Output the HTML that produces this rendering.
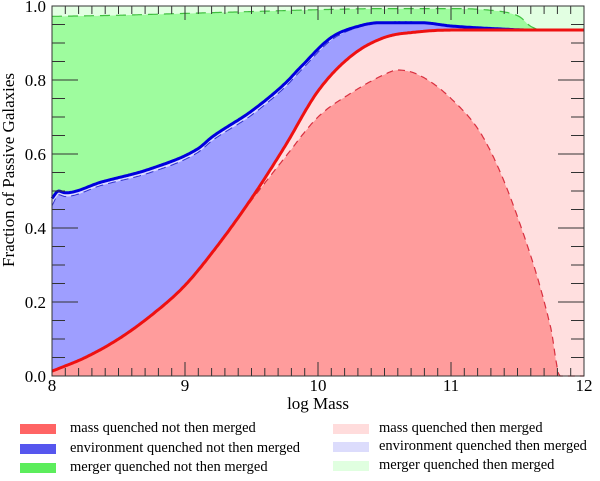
<!DOCTYPE html>
<html><head><meta charset="utf-8"><style>
body{margin:0;background:#fff;width:600px;height:476px;overflow:hidden}
svg{font-family:"Liberation Serif",serif}
</style></head><body>
<svg id="chart" width="600" height="476" viewBox="0 0 600 476">
<g id="fills"></g>
<g id="lines"></g>
<g id="axes"></g>
<text x="318" y="409" font-size="17" text-anchor="middle">log Mass</text>
<text transform="translate(14,170) rotate(-90)" font-size="17" text-anchor="middle">Fraction of Passive Galaxies</text>
<g id="legend"></g>
</svg>
<script>
const massX = [8,8.25,8.5,8.75,9,9.25,9.5,9.75,10,10.25,10.5,10.75,11,11.25,11.5,11.75,12];
const massTotal = [0.013,0.05,0.1,0.165,0.245,0.355,0.48,0.62,0.77,0.865,0.915,0.93,0.935,0.935,0.935,0.935,0.935];
const massNotMergedX = [8,8.25,8.5,8.75,9,9.25,9.5,9.75,10,10.25,10.5,10.6,10.75,11,11.25,11.5,11.75,11.82,12];
const massNotMerged = [0.013,0.05,0.1,0.165,0.245,0.355,0.475,0.59,0.7,0.765,0.815,0.827,0.815,0.75,0.64,0.43,0.13,0,0];
const envX = [8,8.05,8.1,8.37,8.74,9.1,9.2,9.5,9.75,9.87,10.1,10.3,10.47,10.77,11,11.37,11.6,12];
const envTotal = [0.48,0.5,0.495,0.524,0.56,0.615,0.645,0.716,0.79,0.835,0.915,0.945,0.955,0.955,0.946,0.938,0.935,0.935];
const envNotMerged = [0.46,0.49,0.485,0.515,0.55,0.605,0.635,0.705,0.78,0.825,0.908,0.942,0.953,0.954,0.945,0.937,0.935,0.935];
const mergerX = [8,8.5,9,9.5,10,10.5,11,11.25,11.45,11.52,11.6,11.7,12];
const mergerNotMerged = [0.972,0.975,0.98,0.985,0.99,0.993,0.993,0.99,0.98,0.97,0.945,0.935,0.935];
const xTicks = ["8","9","10","11","12"];
const yTicks = ["0.0","0.2","0.4","0.6","0.8","1.0"];

const L=52,R=584,T=6,B=376;
const sx=v=>L+(v-8)/4*(R-L);
const sy=v=>B-v*(B-T);
const NS="http://www.w3.org/2000/svg";
function mk(tag,attrs,parent){const e=document.createElementNS(NS,tag);for(const k in attrs)e.setAttribute(k,attrs[k]);parent.appendChild(e);return e;}
function interp(xs,ys,x){
 const n=xs.length;
 if(x<=xs[0])return ys[0]; if(x>=xs[n-1])return ys[n-1];
 const d=[],m=[];
 for(let i=0;i<n-1;i++)d.push((ys[i+1]-ys[i])/(xs[i+1]-xs[i]));
 m.push(d[0]);
 for(let i=1;i<n-1;i++){m.push(d[i-1]*d[i]<=0?0:(d[i-1]+d[i])/2);}
 m.push(d[n-2]);
 for(let i=0;i<n-1;i++){if(d[i]===0){m[i]=0;m[i+1]=0;continue;}const a=m[i]/d[i],b=m[i+1]/d[i],s=a*a+b*b;if(s>9){const t=3/Math.sqrt(s);m[i]=t*a*d[i];m[i+1]=t*b*d[i];}}
 let i=0;while(x>xs[i+1])i++;
 const h=xs[i+1]-xs[i],t=(x-xs[i])/h;
 const h00=2*t*t*t-3*t*t+1,h10=t*t*t-2*t*t+t,h01=-2*t*t*t+3*t*t,h11=t*t*t-t*t;
 return h00*ys[i]+h10*h*m[i]+h01*ys[i+1]+h11*h*m[i+1];
}
const grid=[];for(let i=0;i<=400;i++)grid.push(8+i*0.01);
const f=(xs,ys)=>grid.map(x=>interp(xs,ys,x));
const gTop=grid.map(()=>1), gZero=grid.map(()=>0);
const gMT=f(massX,massTotal);
const gMN=f(massNotMergedX,massNotMerged).map((v,i)=>Math.max(0,Math.min(v,gMT[i])));
const gEN=f(envX,envNotMerged).map((v,i)=>Math.max(v,gMT[i])), gET=f(envX,envTotal).map((v,i)=>Math.max(v,gMT[i]));
const gGN=f(mergerX,mergerNotMerged).map((v,i)=>Math.max(v,gET[i]));
function linePts(a){return grid.map((x,i)=>sx(x).toFixed(1)+","+sy(a[i]).toFixed(1)).join(" ");}
function band(lo,hi,color,name){const p=linePts(hi)+" "+grid.slice().reverse().map((x,j)=>{const i=grid.length-1-j;return sx(x).toFixed(1)+","+sy(lo[i]).toFixed(1);}).join(" ");
 const e=mk("polygon",{points:p,fill:color},document.getElementById("fills"));
 
 }
band(gZero,gMN,"#ff9c9c","area-mass-not-merged");
band(gMN,gMT,"#ffdfdf","area-mass-merged");
band(gMT,gEN,"#9e9eff","area-env-not-merged");
band(gEN,gET,"#dadaff","area-env-merged");
band(gET,gGN,"#9efc9e","area-merger-not-merged");
band(gGN,gTop,"#e2ffe2","area-merger-merged");
const lg=document.getElementById("lines");
function line(a,color,w,dash,name){const e=mk("polyline",{points:linePts(a),fill:"none",stroke:color,"stroke-width":w},lg);if(dash)e.setAttribute("stroke-dasharray",dash);
 
 }
line(gMN,"#d83040",1.2,"7,5","line-mass-not-merged");
line(gGN,"#40c040",1.2,"10,6","line-merger-not-merged");
line(gEN,"#3333cc",1,"8,5","line-env-not-merged");
line(gET,"#0000dd",3,null,"line-env-total");
line(gMT,"#ee1111",3,null,"line-mass-total");
const ax=document.getElementById("axes");
const fr=mk("rect",{x:L,y:T,width:R-L,height:B-T,fill:"none",stroke:"#333","stroke-width":1},ax);

for(let i=0;i<=40;i++){const x=sx(8+i*0.1),len=i%10===0?14:8;
 mk("line",{x1:x,x2:x,y1:B,y2:B-len,stroke:"#333"},ax);mk("line",{x1:x,x2:x,y1:T,y2:T+len,stroke:"#333"},ax);}
for(let i=0;i<=20;i++){const y=sy(i*0.05),len=i%4===0?26:13;
 mk("line",{x1:L,x2:L+len,y1:y,y2:y,stroke:"#333"},ax);mk("line",{x1:R,x2:R-len,y1:y,y2:y,stroke:"#333"},ax);}
xTicks.forEach(t=>{const e=mk("text",{x:sx(+t),y:B+15,"font-size":17,"text-anchor":"middle"},ax);e.textContent=t;
 });
yTicks.forEach(t=>{const e=mk("text",{x:L-6,y:sy(+t)+6,"font-size":17,"text-anchor":"end"},ax);e.textContent=t;
 });
const legendItems=[["mass quenched not then merged","#ff6464",20,70,429],["environment quenched not then merged","#5656ee",20,70,449],["merger quenched not then merged","#5ced5c",20,70,468],
["mass quenched then merged","#ffdcdc",333,379,429],["environment quenched then merged","#dcdcfc",333,379,447],["merger quenched then merged","#e0ffe0",333,379,466]];
const lgd=document.getElementById("legend");
legendItems.forEach(it=>{const g=mk("g",{},lgd);
 mk("rect",{x:it[2],y:it[4]-5,width:36,height:10,fill:it[1]},g);
 const t=mk("text",{x:it[3],y:it[4]+3,"font-size":14.5},g);t.textContent=it[0];});
</script>
</body></html>
